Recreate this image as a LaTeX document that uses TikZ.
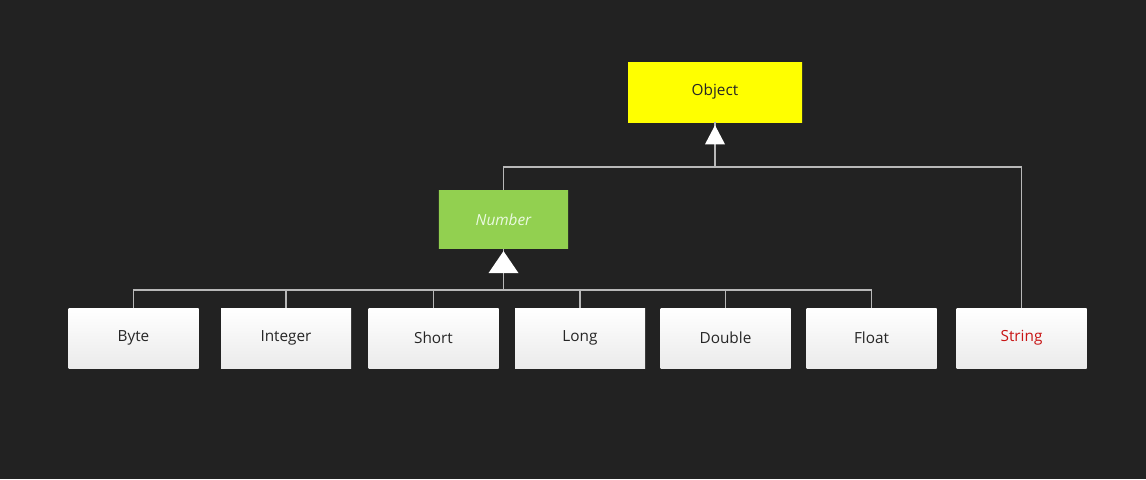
\documentclass[tikz,border=0pt]{standalone}
\usepackage{fontspec}
\setmainfont{Open Sans}
\begin{document}
\begin{tikzpicture}[x=0.75pt,y=-0.75pt,
  box/.style={draw=none,minimum width=97.5pt,minimum height=45pt,inner sep=0pt,top color=white,bottom color=black!8,text=black!85,font=\fontsize{11.5}{13}\selectfont},
  ln/.style={draw=black!28,line width=1.1pt},
  tri/.style={fill=white,draw=none}]
\useasboundingbox[fill={rgb,255:red,34;green,34;blue,34}] (0,0) rectangle (1146,479);
\node[box,fill=yellow,top color=yellow,bottom color=yellow,minimum width=130.5pt] (obj) at (715,92) {Object};
\node[box,top color={rgb,255:red,146;green,208;blue,80},bottom color={rgb,255:red,146;green,208;blue,80},text={rgb,255:red,235;green,250;blue,225},minimum width=97pt,minimum height=44pt,font=\fontsize{11.5}{13}\selectfont\itshape] (num) at (503.5,219.5) {Number};
\foreach \n/\x/\t in {byte/133.5/Byte,int/286/Integer,short/433.5/Short,long/580/Long,dbl/725.5/Double,flt/871.5/Float}
  \node[box] (\n) at (\x,338) {\t};
\node[box,text={rgb,255:red,200;green,20;blue,20}] (str) at (1021.5,338) {String};
% Object hierarchy
\coordinate (oj) at (715,167);
\draw[ln] (oj) -- (obj.south);
\draw[ln] (num.north) -- (num.north |- oj) -- (str.north |- oj) -- (str.north);
\draw[ln] (num.north |- oj) -- (oj);
\fill[tri] (obj.south) ++(0,3) -- ++(10,19) -- ++(-20,0) -- cycle;
% Number hierarchy
\coordinate (nj) at (503.5,290);
\draw[ln] (nj) -- (num.south);
\draw[ln] (byte.north) -- (byte.north |- nj) -- (flt.north |- nj) -- (flt.north);
\foreach \n in {int,short,long,dbl} \draw[ln] (\n.north) -- (\n.north |- nj);
\fill[tri] (num.south) ++(0,2) -- ++(15,22) -- ++(-30,0) -- cycle;
\end{tikzpicture}
\end{document}
